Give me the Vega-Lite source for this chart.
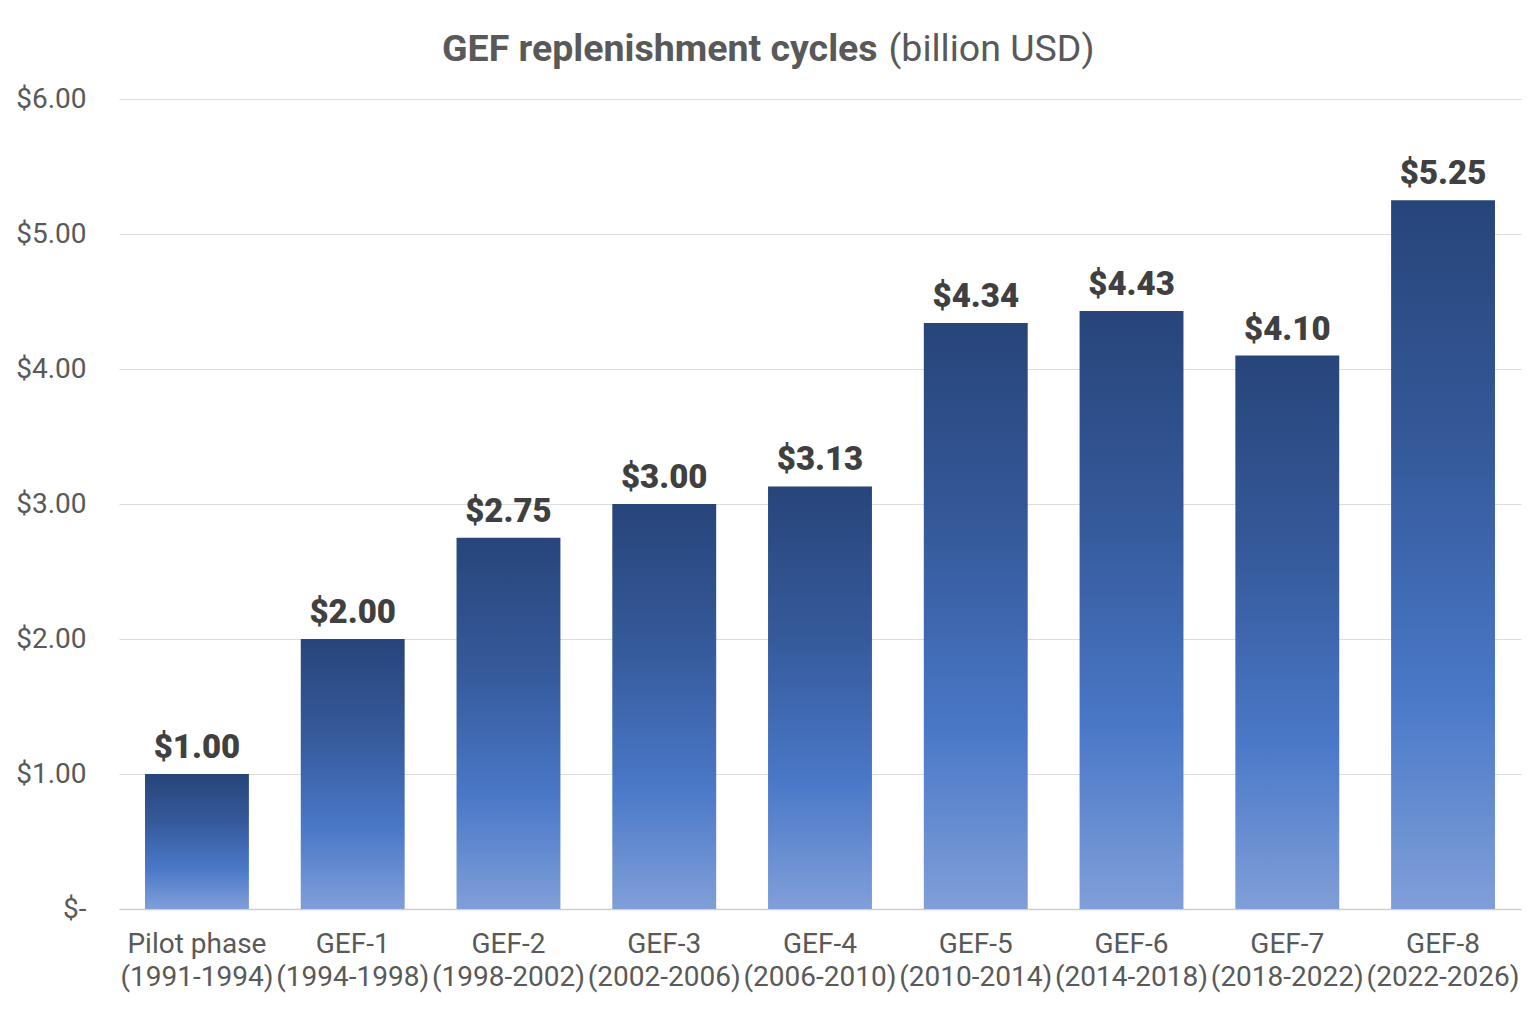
{
  "$schema": "https://vega.github.io/schema/vega-lite/v6.json",
  "width": 1402,
  "height": 810,
  "padding": {"left": 15, "top": 30, "right": 16, "bottom": 10},
  "background": "white",
  "config": {"font": "Roboto", "view": {"stroke": null}},
  "title": {
    "text": "GEF replenishment cycles",
    "subtitle": "\u200b\u00a0\u00a0\u00a0\u00a0\u00a0\u00a0\u00a0\u00a0\u00a0\u00a0\u00a0\u00a0\u00a0\u00a0\u00a0\u00a0\u00a0\u00a0\u00a0\u00a0\u00a0\u00a0\u00a0\u00a0\u00a0\u00a0\u00a0\u00a0\u00a0\u00a0\u00a0\u00a0\u00a0\u00a0\u00a0\u00a0\u00a0\u00a0\u00a0\u00a0\u00a0\u00a0\u00a0\u00a0\u00a0\u00a0\u00a0\u00a0(billion USD)",
    "anchor": "start",
    "frame": "group",
    "dx": 323,
    "fontSize": 37.5,
    "fontWeight": "bold",
    "color": "#595959",
    "subtitleFontSize": 37.5,
    "subtitleFontWeight": "normal",
    "subtitleColor": "#595959",
    "subtitlePadding": -37.5,
    "offset": 17
  },
  "data": {
    "values": [
      {"cycle": "Pilot phase (1991-1994)", "value": 1.00},
      {"cycle": "GEF-1 (1994-1998)", "value": 2.00},
      {"cycle": "GEF-2 (1998-2002)", "value": 2.75},
      {"cycle": "GEF-3 (2002-2006)", "value": 3.00},
      {"cycle": "GEF-4 (2006-2010)", "value": 3.13},
      {"cycle": "GEF-5 (2010-2014)", "value": 4.34},
      {"cycle": "GEF-6 (2014-2018)", "value": 4.43},
      {"cycle": "GEF-7 (2018-2022)", "value": 4.10},
      {"cycle": "GEF-8 (2022-2026)", "value": 5.25}
    ]
  },
  "encoding": {
    "x": {
      "field": "cycle",
      "type": "nominal",
      "sort": null,
      "title": null,
      "scale": {"paddingInner": 0.333, "paddingOuter": 0.167},
      "axis": {
        "labelAngle": 0,
        "labelFontSize": 28,
        "labelColor": "#595959",
        "labelPadding": 21,
        "labelLineHeight": 33,
        "labelBaseline": "top",
        "ticks": false,
        "domain": true,
        "domainColor": "#cfcfcf",
        "domainWidth": 1.5,
        "labelExpr": "[slice(datum.value, 0, indexof(datum.value, ' (')), slice(datum.value, indexof(datum.value, ' (') + 1)]"
      }
    },
    "y": {
      "field": "value",
      "type": "quantitative",
      "title": null,
      "scale": {"domain": [0, 6]},
      "axis": {
        "values": [0, 1, 2, 3, 4, 5, 6],
        "labelFontSize": 28,
        "labelColor": "#595959",
        "labelPadding": 33,
        "ticks": false,
        "domain": false,
        "gridColor": "#dcdcdc",
        "gridWidth": 1.2,
        "labelExpr": "datum.value == 0 ? '$-' : '$' + format(datum.value, '.2f')"
      }
    }
  },
  "layer": [
    {
      "mark": {
        "type": "bar",
        "color": {
          "gradient": "linear",
          "x1": 0, "y1": 0, "x2": 0, "y2": 1,
          "stops": [
            {"offset": 0, "color": "#27457a"},
            {"offset": 0.35, "color": "#35599a"},
            {"offset": 0.7, "color": "#4a78c8"},
            {"offset": 1, "color": "#809fd9"}
          ]
        }
      }
    },
    {
      "mark": {
        "type": "text",
        "baseline": "alphabetic",
        "dy": -16,
        "fontSize": 33,
        "fontWeight": 900,
        "color": "#404040"
      },
      "encoding": {
        "text": {"field": "value", "type": "quantitative", "format": "$.2f"}
      }
    }
  ]
}
